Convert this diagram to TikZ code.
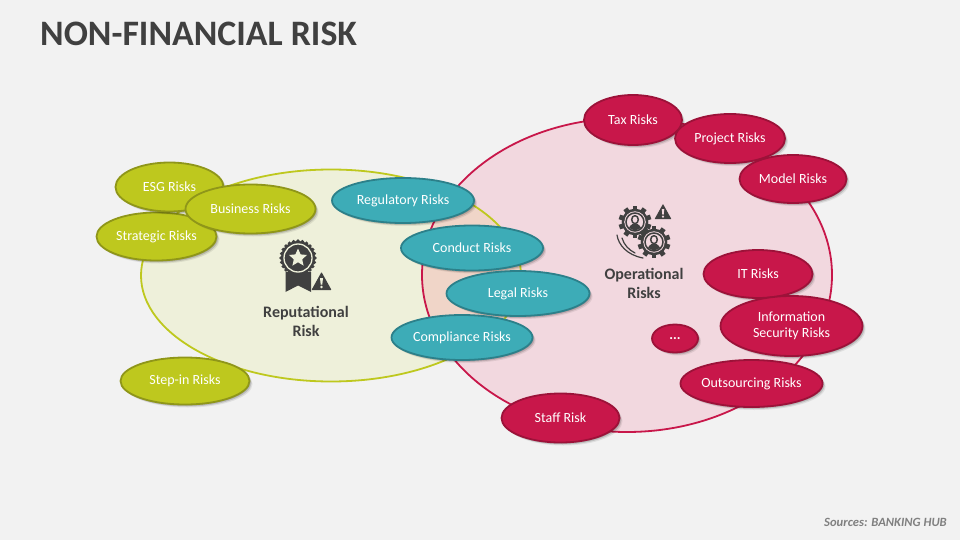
\documentclass[tikz,border=0pt]{standalone}
\usepackage{fontspec}
\setmainfont{Carlito}
\usetikzlibrary{shapes.geometric,shadows,calc}
\definecolor{bgc}{HTML}{F2F2F2}
\definecolor{ink}{HTML}{404040}
\definecolor{olv}{HTML}{BEC81E}
\definecolor{olvd}{HTML}{8F9619}
\definecolor{tea}{HTML}{3DACB7}
\definecolor{tead}{HTML}{2C808A}
\definecolor{crm}{HTML}{C8174A}
\definecolor{crmd}{HTML}{9C1239}
\definecolor{olvpale}{HTML}{EEF0DA}
\definecolor{crmpale}{HTML}{F2D8DF}
\definecolor{mixpale}{HTML}{F0D5C8}
\tikzset{
  x=1pt,y=-1pt,
  softshadow/.style={
    general shadow={shadow xshift=3pt,shadow yshift=-3pt,opacity=.08,fill=black},
    general shadow={shadow xshift=2pt,shadow yshift=-2pt,opacity=.14,fill=black},
    general shadow={shadow xshift=1pt,shadow yshift=-1pt,opacity=.14,fill=black}},
  bub/.style={ellipse,inner sep=0pt,line width=1.8pt,text=white,align=center,
    font=\fontsize{14}{16}\selectfont,softshadow},
  olvb/.style={bub,fill=olv,draw=olvd},
  teab/.style={bub,fill=tea,draw=tead},
  crmb/.style={bub,fill=crm,draw=crmd},
  head/.style={text=ink,font=\fontsize{16}{19}\selectfont\bfseries,align=center},
}
\newcommand{\warnsign}[4]{% centre x, centre y, half width, mark colour
  \fill[ink,rounded corners=.6pt] (#1-#3,#2+#3*.85) -- (#1,#2-#3*.95) -- (#1+#3,#2+#3*.85) -- cycle;
  \fill[#4] (#1-.15*#3,#2-.35*#3) -- (#1+.15*#3,#2-.35*#3) -- (#1+.08*#3,#2+.3*#3) -- (#1-.08*#3,#2+.3*#3) -- cycle;
  \fill[#4] (#1,#2+.55*#3) circle (.14*#3);
}
\newcommand{\gearperson}[3]{% x, y, tint
  \foreach \a in {0,36,...,324}{
    \fill[ink,rotate around={\a:(#1,#2)}] (#1-2.4,#2-16.4) rectangle (#1+2.4,#2-10);
  }
  \draw[ink,line width=2.6pt] (#1,#2) circle (12);
  \fill[#3] (#1,#2) circle (10.7);
  \draw[ink,line width=1.5pt] (#1,#2) circle (9);
  \begin{scope}
    \clip (#1,#2) circle (8.2);
    \fill[ink] (#1,#2+9.5) ellipse (6.8 and 8);
  \end{scope}
  \draw[ink,line width=1.5pt,fill=#3] (#1,#2-2.4) ellipse (3.3 and 4);
}
\begin{document}
\begin{tikzpicture}
\useasboundingbox (0,0) rectangle (960,540);
\fill[bgc] (0,0) rectangle (960,540);
\node[anchor=west,inner sep=0pt,text=ink,font=\fontsize{35.8}{40}\selectfont\bfseries] (title) at (40,34) {NON-FINANCIAL RISK};
\node[anchor=east,inner sep=0pt,text=black!50,font=\fontsize{12.6}{14}\selectfont\bfseries\itshape] (src) at (947,522) {Sources: BANKING HUB};

\fill[olvpale] (331,275.5) ellipse (190 and 106);
\fill[crmpale] (627,275) ellipse (205 and 157);
\begin{scope}
  \clip (331,275.5) ellipse (190 and 106);
  \fill[mixpale] (627,275) ellipse (205 and 157);
\end{scope}
\draw[olv,line width=1.8pt] (331,275.5) ellipse (190 and 106);
\draw[crm,line width=1.8pt] (627,275) ellipse (205 and 157);

% Medal icon
\fill[ink] (285.5,272) -- (285.5,292) -- (298,285.5) -- (311,292) -- (311,272) -- cycle;
\foreach \a in {0,15,...,345}{
  \fill[ink] ($(298,258)+(\a:17)$) circle (1.8);
}
\fill[ink] (298,258) circle (17);
\draw[draw=olvpale,line width=1.3pt] (298,258) circle (14);
\fill[olvpale] (298,248.5) -- (300.6,254.4) -- (307,255) -- (302.2,259.3) -- (303.6,265.6) -- (298,262.3) -- (292.4,265.6) -- (293.8,259.3) -- (289,255) -- (295.4,254.4) -- cycle;
\warnsign{321.5}{281.5}{10}{olvpale}

% Gears icon
\gearperson{635}{222}{crmpale}
\gearperson{654}{242}{crmpale}
\warnsign{663}{212}{8.5}{crmpale}
\draw[ink,line width=1.2pt,line cap=round] (617,235) .. controls (618.5,245) and (627,255) .. (643,258);
\draw[ink,line width=1.2pt,line cap=round] (622,238) .. controls (624,245) and (629,250) .. (635,253);

\node[head] (rep) at (306,321) {Reputational\\Risk};
\node[head] (ops) at (644,283.5) {Operational\\Risks};

\node[olvb,minimum width=120pt,minimum height=48pt] (strat) at (156.5,236.5) {Strategic Risks};
\node[olvb,minimum width=108pt,minimum height=49pt] (esg) at (169.5,187) {ESG Risks};
\node[olvb,minimum width=130pt,minimum height=49pt] (bus) at (250.5,209) {Business Risks};
\node[olvb,minimum width=129pt,minimum height=47pt] (stepin) at (185,381) {Step-in Risks};

\node[teab,minimum width=142pt,minimum height=45pt] (reg) at (403,200.5) {Regulatory Risks};
\node[teab,minimum width=142pt,minimum height=45pt] (con) at (472,248) {Conduct Risks};
\node[teab,minimum width=143pt,minimum height=45pt] (leg) at (518,293.5) {Legal Risks};
\node[teab,minimum width=141pt,minimum height=45pt] (com) at (462,337.5) {Compliance Risks};

\node[crmb,minimum width=98pt,minimum height=50pt] (tax) at (633,120) {Tax Risks};
\node[crmb,minimum width=110pt,minimum height=49pt] (pro) at (730,138.5) {Project Risks};
\node[crmb,minimum width=107pt,minimum height=48pt] (mod) at (793,179) {Model Risks};
\node[crmb,minimum width=109pt,minimum height=48pt] (it) at (758,274) {IT Risks};
\node[crmb,minimum width=142pt,minimum height=60pt] (inf) at (791.5,326) {Information\\Security Risks};
\node[crmb,minimum width=46pt,minimum height=28pt] (dots) at (675,338.5) {\textbf{...}};
\node[crmb,minimum width=142pt,minimum height=47pt] (out) at (751.5,383.5) {Outsourcing Risks};
\node[crmb,minimum width=118pt,minimum height=49pt] (sta) at (560.5,418) {Staff Risk};
\end{tikzpicture}
\end{document}
